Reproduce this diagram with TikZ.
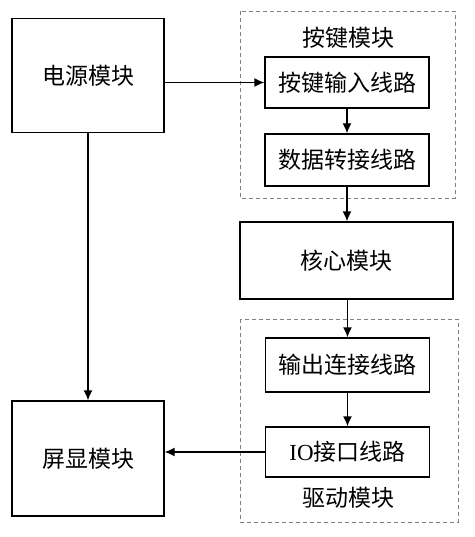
\documentclass[tikz,border=0pt]{standalone}
\usepackage{fontspec}
\setmainfont{Liberation Serif}
\newfontfamily\cjk{Noto Sans CJK SC}
\usetikzlibrary{arrows.meta}
\usetikzlibrary{positioning}
\tikzset{block/.style = {draw, line width=1.3pt, minimum width=164pt, minimum height=52pt,
                         inner sep=0pt, font=\fontsize{23}{27}\selectfont\cjk},
         bigblock/.style = {block, minimum width=152pt, minimum height=114pt},
         group/.style = {draw=gray, dash pattern=on 4pt off 3pt, line width=0.9pt},
         grouplabel/.style = {font=\fontsize{23}{27}\selectfont\cjk},
         link/.style = {-{Latex[length=10pt, width=9pt]}, line width=1.3pt}}

\begin{document}
\begin{tikzpicture}[x=1pt, y=-1pt]
      \useasboundingbox (0, 0) rectangle (474, 537);
      \draw [group] (240, 11) rectangle (455, 198);
      \draw [group] (240, 319) rectangle (458, 522);
      \node [grouplabel] (keylabel) at (348, 38) {按键模块};
      \node [grouplabel] (drivelabel) at (348, 498) {驱动模块};
      \node [bigblock] (power) at (88, 75.5) {电源模块};
      \node [bigblock, minimum height=115pt] (screen) at (88, 458.5) {屏显模块};
      \node [block, minimum height=51pt] (keyin) at (347, 82.5) {按键输入线路};
      \node [block] (datasw) at (347, 160) {数据转接线路};
      \node [block, minimum width=213pt, minimum height=77pt] (core) at (346.5, 260.5) {核心模块};
      \node [block, minimum height=54pt] (output) at (347.5, 365) {输出连接线路};
      \node [block, minimum height=50pt] (io) at (347.5, 452) {{\rmfamily IO}接口线路};
      \draw [link] (keyin.west -| power.east) -- (keyin.west);
      \draw [link] (power.south) -- (screen.north);
      \draw [link] (keyin) -- (datasw);
      \draw [link] (datasw) -- (datasw |- core.north);
      \draw [link] (core.south -| output) -- (output);
      \draw [link] (output) -- (io);
      \draw [link] (io.west) -- (io.west -| screen.east);
    \end{tikzpicture}
\end{document}
